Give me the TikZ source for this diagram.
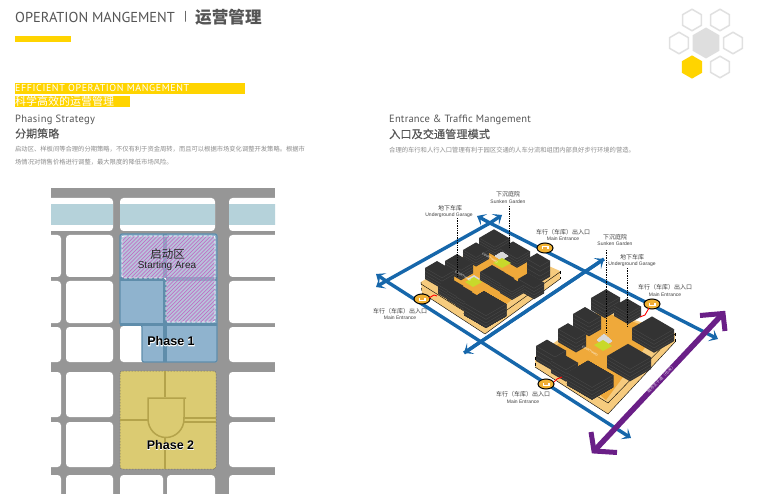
\documentclass[tikz,border=0pt]{standalone}
\usepackage{fontspec}
\setmainfont{PT Sans}
\newfontfamily\cjkfont{Noto Sans CJK SC}
\newfontfamily\cjkmed[FakeBold=0.35]{Noto Sans CJK SC}
\newfontfamily\armfont{Liberation Sans}
\newfontfamily\halofont[BoldFeatures={FakeBold=5}]{Liberation Sans}
\usetikzlibrary{arrows.meta,shapes.geometric}
\definecolor{ypanel}{HTML}{FFD400}
\definecolor{inktext}{HTML}{555555}
\definecolor{bodytext}{HTML}{8C8C8C}
\definecolor{roadgray}{HTML}{969696}
\definecolor{teal}{HTML}{B5D2DA}
\definecolor{phaseone}{HTML}{8FB3CE}
\definecolor{phaseline}{HTML}{5F8DAB}
\definecolor{hatchbg}{HTML}{BFC6DE}
\definecolor{hatchfg}{HTML}{C25FC0}
\definecolor{phasetwo}{HTML}{DBCB72}
\definecolor{twoline}{HTML}{B4A34B}
\definecolor{road}{HTML}{1667AB}
\definecolor{purp}{HTML}{6A1F87}
\definecolor{plate}{HTML}{F6CB7E}
\definecolor{court}{HTML}{EFA93A}
\definecolor{lime}{HTML}{C8D92B}
\definecolor{dark}{HTML}{333333}
\definecolor{floorln}{HTML}{4A4A4A}
\tikzset{
  block/.style={fill=white, rounded corners=3.5pt},
  smallhex/.style={draw=#1, line width=1.5pt, regular polygon, regular polygon sides=6, shape border rotate=30, minimum size=21.5pt, inner sep=0pt},
  lbl/.style={font=\armfont\fontsize{5}{6}\selectfont, text=black!75, inner sep=0pt},
  lblcn/.style={font=\cjkfont\fontsize{6}{7}\selectfont, text=black!75, inner sep=0pt},
  roadline/.style={draw=road, line width=3.4pt},
  roadarrow/.style={roadline, -{Stealth[length=8pt,width=13pt,inset=4pt]}},
  gate/.style={ellipse, draw=black, line width=1pt, fill=court!90!yellow, minimum width=16pt, minimum height=10pt, inner sep=0pt},
  leader/.style={densely dotted, line width=.7pt, black},
  head/.style={anchor=west, inner sep=0pt},
  tiny/.style={font=\armfont\fontsize{2.8}{3}\selectfont, text=white, inner sep=0pt},
}
% one isometric stack: left corner x,y then a b h
\newcommand{\stack}[5]{
  \fill[dark] (#1,#2) -- ++(#4,-.58*#4) -- ++(#3,.58*#3) -- ++(0,#5) -- ++(-#4,.58*#4) -- ++(-#3,-.58*#3) -- cycle;
  \foreach \f in {.3,.6,.85}
    \draw[floorln, line width=.35pt] (#1,#2+\f*#5) -- ++(#3,.58*#3) -- ++(#4,-.58*#4);
  \draw[floorln, line width=.35pt] (#1,#2) -- ++(#3,.58*#3) -- ++(#4,-.58*#4);
}
\newcommand{\gatemark}[1]{\fill[white] (#1) ++(-3.5pt,-1.5pt) rectangle ++(7pt,3pt); \fill[court] (#1) ++(-2.2pt,-.7pt) rectangle ++(4.4pt,1.4pt);}
\newcommand{\halo}[1]{\makebox[0pt]{\halofont\bfseries\color{white}#1}\makebox[0pt]{\armfont\bfseries\color{black}#1}}
\begin{document}
\begin{tikzpicture}[x=1pt,y=-1pt]
\useasboundingbox (0,0) rectangle (760,494);
\fill[white] (0,0) rectangle (760,494);

% heading
\node[head, text=inktext, font=\fontsize{14.4}{16}\selectfont] (title) at (15,17) {OPERATION MANGEMENT};
\node[head, text=inktext, font=\fontsize{13}{14}\selectfont] (titlebar) at (184,16.5) {|};
\node[head, text=inktext, font=\cjkfont\bfseries\fontsize{16.6}{18}\selectfont] (titlecn) at (195,17) {运营管理};
\fill[ypanel] (15,36) rectangle (71,42);
\fill[ypanel] (15,83) rectangle (245,94.5);
\fill[ypanel] (15,96) rectangle (130,107.5);
\node[head, text=white, font=\addfontfeature{LetterSpace=6}\fontsize{10}{12}\selectfont] (efficient) at (15,88.5) {EFFICIENT OPERATION MANGEMENT};
\node[head, text=white, font=\cjkfont\fontsize{11}{12}\selectfont] (efficientcn) at (15,101.5) {科学高效的运营管理};
\node[head, text=inktext, font=\addfontfeature{LetterSpace=3}\fontsize{10.5}{12}\selectfont] (phasing) at (15,120) {Phasing Strategy};
\node[head, text=inktext, font=\cjkmed\fontsize{11}{12}\selectfont] (phasingcn) at (15,133.5) {分期策略};
\node[head, text=bodytext, font=\cjkfont\fontsize{6.3}{7}\selectfont] (bodya) at (15,149.5) {启动区、样板间等合理的分期策略，不仅有利于资金周转，而且可以根据市场变化调整开发策略。根据市};
\node[head, text=bodytext, font=\cjkfont\fontsize{6.3}{7}\selectfont] (bodyb) at (15,162) {场情况对销售价格进行调整，最大限度的降低市场风险。};
\node[head, text=inktext, font=\addfontfeature{LetterSpace=2}\fontsize{10.5}{12}\selectfont] (entrance) at (389,120) {Entrance \& Traffic Mangement};
\node[head, text=inktext, font=\cjkmed\fontsize{11.2}{12}\selectfont] (entrancecn) at (389,134) {入口及交通管理模式};
\node[head, text=bodytext, font=\cjkfont\fontsize{6.3}{7}\selectfont] (bodyc) at (389,150) {合理的车行和人行入口管理有利于园区交通的人车分流和组团内部良好步行环境的营造。};

% hexagons
\node[regular polygon, regular polygon sides=6, shape border rotate=30, fill=black!13, minimum size=31pt, inner sep=0pt] (hexmid) at (706,43) {};
\node[smallhex=black!12] (hexa) at (692,20) {};
\node[smallhex=black!12] (hexb) at (720,20) {};
\node[smallhex=black!12] (hexc) at (679,43) {};
\node[smallhex=black!12] (hexd) at (733,43) {};
\node[smallhex=ypanel, fill=ypanel] (hexe) at (692,67) {};
\node[smallhex=black!12] (hexf) at (720,67) {};

% left plan
\begin{scope}
\clip (51,188) rectangle (275,494);
\fill[roadgray] (51,188) rectangle (275,494);
\foreach \ya/\yb in {235/277,281/323,327/362,372/417,422/467,475/500}{
  \fill[block] (40,\ya) rectangle (61,\yb);
  \fill[block] (66,\ya) rectangle (113,\yb);
  \fill[block] (229,\ya) rectangle (290,\yb);
}
\fill[block] (40,198) rectangle (113,231);
\fill[block] (120,198) rectangle (215,231);
\fill[block] (229,198) rectangle (290,231);
\fill[teal] (40,204) rectangle (113,225);
\fill[teal] (120,204) rectangle (215,225);
\fill[teal] (229,204) rectangle (290,225);
\fill[block] (120,326) rectangle (145,362);
\fill[block] (120,475) rectangle (163,500);
\fill[block] (167,475) rectangle (215,500);
\end{scope}
% phase 1
\fill[phaseone] (120,234) -- (217,234) -- (217,362) -- (142,362) -- (142,325) -- (120,325) -- cycle;
\draw[phaseline, line width=1.2pt, rounded corners=2pt] (120,234) -- (217,234) -- (217,362) -- (142,362) -- (142,325) -- (120,325) -- cycle;
\draw[phaseline, line width=3.5pt] (165,234) -- (165,362);
\draw[phaseline, line width=3.5pt] (120,279) -- (217,279);
\draw[phaseline, line width=3.5pt] (120,324.5) -- (217,324.5);
\begin{scope}
\clip[rounded corners=2pt] (122,236) -- (215,236) -- (215,322) -- (166,322) -- (166,278) -- (122,278) -- cycle;
\fill[hatchbg, opacity=.85] (120,234) rectangle (217,324);
\draw[phaseline, opacity=.4, line width=3.5pt] (165,234) -- (165,324);
\draw[phaseline, opacity=.4, line width=3.5pt] (166,279) -- (217,279);
\foreach \k in {-130,-126.2,...,130}
  \draw[hatchfg, line width=.5pt] (110+\k,330) -- (110+\k+100,230);
\end{scope}
\draw[white, densely dashed, line width=.8pt, rounded corners=2pt] (122,236) -- (215,236) -- (215,322) -- (166,322) -- (166,278) -- (122,278) -- cycle;
\node[font=\cjkfont\fontsize{11.5}{12}\selectfont, text=black!85, inner sep=0pt] (startcn) at (167.5,254) {启动区};
\node[font=\armfont\fontsize{10}{10}\selectfont, text=black!85, inner sep=0pt] (start) at (167,266) {Starting Area};
\node[font=\fontsize{12.5}{13}\selectfont, inner sep=0pt] (phaseonelbl) at (171,341.5) {\halo{Phase 1}};
% phase 2
\fill[phasetwo, draw=black!70, densely dotted, line width=.5pt, rounded corners=2.5pt] (120,371) rectangle (216,469);
\draw[twoline, line width=1.3pt] (165,371) -- (165,397);
\draw[twoline, line width=1.3pt] (120,420) -- (148,420);
\draw[twoline, line width=1.3pt] (183,418) -- (216,418);
\draw[twoline, line width=1.3pt] (183,422) -- (216,422);
\draw[twoline, line width=1.3pt] (165,437) -- (165,469);
\draw[twoline, line width=1.5pt] (186,398) -- (148,398) -- (148,419) arc[start angle=180, end angle=0, x radius=18, y radius=18.5] -- (184,398);
\node[font=\fontsize{12.5}{13}\selectfont, inner sep=0pt] (phasetwolbl) at (170.5,445) {\halo{Phase 2}};

% roads
\coordinate (rtop) at (490,223);
\coordinate (rtopnw) at (477,216);
\coordinate (rtopne) at (502,215);
\coordinate (rleft) at (386,281);
\coordinate (rleftnw) at (376,274);
\coordinate (rleftsw) at (376,287);
\coordinate (rse) at (718,339);
\coordinate (rbot) at (631,438);
\coordinate (rmidsw) at (464,353);
\coordinate (rmidne) at (604,259);
\draw[roadarrow] (rtop) -- (rtopnw);
\draw[roadarrow] (rtop) -- (rtopne);
\draw[roadarrow] (rleft) -- (rleftnw);
\draw[roadarrow] (rleft) -- (rleftsw);
\draw[roadline] (rtop) -- (rleft);
\draw[roadarrow] (rtop) -- (rse);
\draw[roadarrow] (rleft) -- (rbot);
\draw[roadarrow] (rmidne) -- (rmidsw);
\draw[roadarrow] (rmidsw) -- (rmidne);

% plate 1
\fill[plate] (421,282) -- (490,240) -- (560,271) -- (560,279) -- (485,334) -- (422,293) -- cycle;
\draw[black, line width=.4pt] (422,293) -- (485,334) -- (560,279);
\draw[black, line width=.4pt] (421,284) -- (486,325) -- (560,272);
\draw[black, dashed, line width=.4pt] (421,282) -- (422,293);
\draw[black, dashed, line width=.4pt] (560,271) -- (560,279);
\fill[court] (432,279) -- (492,243) -- (548,268) -- (486,322) -- cycle;
\foreach \xa/\ya/\a/\b/\h in {479/238/16/15/9, 500/249/17/13/9, 463/250/13/13/9, 527/259/13/10/16, 445/261/16/12/10, 425/268/17/12/11, 518/279/16/10/11, 480/272/12/12/8, 490/278/12/12/8, 500/285/12/12/8, 438/285/13/12/9, 447/291/13/12/9, 456/297/13/12/9}
  \stack{\xa}{\ya}{\a}{\b}{\h}
\stack{464}{303}{22}{20}{12}
\fill[black!15] (495,256) -- (502,252) -- (508,256) -- (501,260) -- cycle;
\fill[black!15] (467,279) -- (474,275) -- (480,279) -- (473,283) -- cycle;
\fill[lime] (493,263) -- (502,258) -- (511,263) -- (502,268) -- cycle;
\fill[lime] (465,282) -- (474,277) -- (482,282) -- (473,287) -- cycle;
\node[tiny, rotate=-30] (courta) at (463,276) {COURTYARD};
\node[tiny, rotate=-30] (courtb) at (490,258) {COURTYARD};

% plate 2
\fill[plate] (535,357) -- (600,309) -- (675,333) -- (675,342) -- (608,414) -- (535,367) -- cycle;
\draw[black, line width=.4pt] (535,367) -- (608,414) -- (675,342);
\draw[black, line width=.4pt] (535,358) -- (608,403) -- (675,334);
\draw[black, dashed, line width=.4pt] (535,357) -- (535,367);
\draw[black, dashed, line width=.4pt] (675,333) -- (675,342);
\fill[court] (548,352) -- (600,311) -- (658,330) -- (606,400) -- cycle;
\foreach \xa/\ya/\a/\b/\h in {591/298/14/15/12, 614/306/14/13/10, 573/314/16/12/13, 558/329/18/10/13, 536/346/19/11/15, 551/361/15/12/12, 632/328/22/20/12, 607/356/23/21/12}
  \stack{\xa}{\ya}{\a}{\b}{\h}
\stack{567}{373}{25}{21}{12}
\fill[black!15] (597,340) -- (604,334) -- (612,341) -- (605,346) -- cycle;
\fill[lime] (594,345) -- (603,340) -- (612,346) -- (603,351) -- cycle;
\node[tiny, rotate=-30] (courtc) at (590,351) {COURTYARD};

% leaders and entrances
\coordinate (leadga) at (457,218);
\coordinate (leadgb) at (457,277);
\coordinate (leadsa) at (509,206);
\coordinate (leadsb) at (509,247);
\coordinate (leadsc) at (606,250);
\coordinate (leadsd) at (606,333);
\coordinate (leadge) at (627,268);
\coordinate (leadgf) at (627,327);
\draw[leader] (leadga) -- (leadgb);
\draw[leader] (leadsa) -- (leadsb);
\draw[leader] (leadsc) -- (leadsd);
\draw[leader] (leadge) -- (leadgf);

\node[gate] (gatea) at (422,299) {};
\node[gate] (gateb) at (545,248) {};
\node[gate] (gatec) at (652,304) {};
\node[gate] (gated) at (546,384) {};
\gatemark{gatea}\gatemark{gateb}\gatemark{gatec}\gatemark{gated}
\coordinate (reda) at (437,296);
\coordinate (redb) at (640,317);
\coordinate (redc) at (562,377);
\draw[red, line width=.9pt] (gatea) ++(7,-1) -- ++(5,-3) -- (reda);
\draw[red, line width=.9pt] (gatec) ++(-3,4) -- ++(-4,7) -- (redb);
\draw[red, line width=.9pt] (gated) ++(8,-2) -- ++(3,-3) -- (redc);

% purple arrow
\coordinate (purpa) at (594,451);
\coordinate (purpb) at (723,313.5);
\draw[purp, line width=5.5pt] (purpa) -- (purpb);
\draw[purp, line width=5pt] (700,315.5) -- (purpb) -- (725,331);
\draw[purp, line width=5pt] (591,432) -- (purpa) -- (617,452.5);
\node[rotate=46, text=white!80!purp, font=\cjkfont\fontsize{4.2}{5}\selectfont, inner sep=0pt] (purplbl) at (661,379) {城市主干道（60米）};

% labels
\node[lblcn] (sunkacn) at (508,194) {下沉庭院};
\node[lbl] (sunka) at (508,202) {Sunken Garden};
\node[lblcn] (undacn) at (450,208) {地下车库};
\node[lbl] (unda) at (449,215) {Underground Garage};
\node[lblcn] (mainacn) at (400,311) {车行（车库）出入口};
\node[lbl] (maina) at (400,318) {Main Entrance};
\node[lblcn] (mainbcn) at (563,232) {车行（车库）出入口};
\node[lbl] (mainb) at (563,239) {Main Entrance};
\node[lblcn] (sunkbcn) at (615,237) {下沉庭院};
\node[lbl] (sunkb) at (615,244) {Sunken Garden};
\node[lblcn] (undbcn) at (632,257) {地下车库};
\node[lbl] (undb) at (632,264) {Underground Garage};
\node[lblcn] (maincn) at (665,287) {车行（车库）出入口};
\node[lbl] (mainc) at (665,295) {Main Entrance};
\node[lblcn] (maindcn) at (523,394) {车行（车库）出入口};
\node[lbl] (maind) at (523,402) {Main Entrance};
\end{tikzpicture}
\end{document}
